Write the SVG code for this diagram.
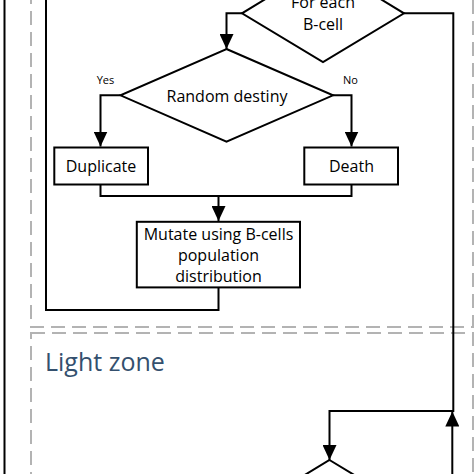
<svg xmlns="http://www.w3.org/2000/svg" width="474" height="474" viewBox="0 0 474 474">
<style>
.shape{fill:#fff;stroke:#000;stroke-width:2}
.wire{fill:none;stroke:#000;stroke-width:2}
.zone{fill:none;stroke:#b3b3b3;stroke-width:2;stroke-dasharray:14 7}
.t{font-family:"Open Sans","Liberation Sans",sans-serif;font-size:16px;fill:#000;text-anchor:middle}
.s{font-family:"Open Sans","Liberation Sans",sans-serif;font-size:11px;fill:#000;text-anchor:middle}
.z{font-family:"Open Sans","Liberation Sans",sans-serif;font-size:25px;fill:#34506e}
</style>
<defs>
<marker id="ah" markerUnits="userSpaceOnUse" markerWidth="16" markerHeight="14" refX="15" refY="7" orient="auto">
<path d="M0,0 L15,7 L0,14 z" fill="#000"/>
</marker>
</defs>
<rect width="474" height="474" fill="#fff"/>
<g id="zones">
<rect class="zone" x="31" y="-20" width="442" height="347"/>
<rect class="zone" x="31" y="333" width="442" height="170"/>
<text class="z" x="45" y="371">Light zone</text>
</g>
<g id="connectors">
<line class="wire" x1="4.5" y1="0" x2="4.5" y2="474"/>
<polyline class="wire" points="242,13.3 226.5,13.3 226.5,49" marker-end="url(#ah)"/>
<polyline class="wire" points="120.5,95.3 100.5,95.3 100.5,146.5" marker-end="url(#ah)"/>
<polyline class="wire" points="333,95.3 351.5,95.3 351.5,146.5" marker-end="url(#ah)"/>
<polyline class="wire" points="100.5,184.5 100.5,196 351.5,196 351.5,184.5"/>
<line class="wire" x1="218.5" y1="196" x2="218.5" y2="221" marker-end="url(#ah)"/>
<polyline class="wire" points="218.5,287.5 218.5,310 46,310 46,-5"/>
<polyline class="wire" points="404,13.3 453.3,13.3 453.3,411 329.5,411 329.5,460" marker-end="url(#ah)"/>
<line class="wire" x1="452.3" y1="480" x2="452.3" y2="411.5" marker-end="url(#ah)"/>
</g>
<g id="for-each">
<polygon class="shape" points="323,-36 404,13.3 323,62 242,13.3"/>
<text class="t" x="323" y="8">For each</text>
<text class="t" x="323" y="29.5">B-cell</text>
</g>
<g id="random-destiny">
<polygon class="shape" points="226.5,49 333,95.3 226.5,141.7 120.5,95.3"/>
<text class="t" x="227" y="101.5">Random destiny</text>
<text class="s" x="105.5" y="83.5">Yes</text>
<text class="s" x="350.5" y="83.5">No</text>
</g>
<g id="duplicate">
<rect class="shape" x="54.3" y="147.5" width="93.7" height="37"/>
<text class="t" x="101" y="172">Duplicate</text>
</g>
<g id="death">
<rect class="shape" x="304.3" y="147.5" width="93.7" height="37"/>
<text class="t" x="351.5" y="172">Death</text>
</g>
<g id="mutate">
<rect class="shape" x="136.8" y="221.8" width="163.2" height="65.6"/>
<text class="t" x="218.5" y="239.5">Mutate using B-cells</text>
<text class="t" x="218.5" y="260.5">population</text>
<text class="t" x="218.5" y="282">distribution</text>
</g>
<g id="next-decision">
<polygon class="shape" points="329.5,460 410.5,509 329.5,558 248.5,509"/>
</g>
</svg>
